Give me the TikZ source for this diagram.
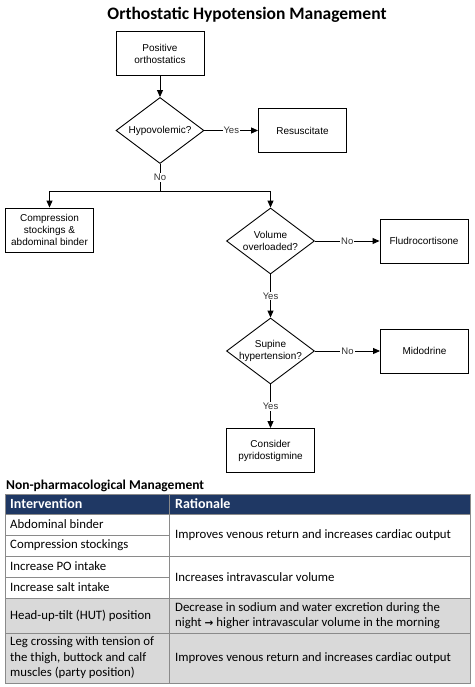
\documentclass[tikz,border=0pt]{standalone}
\usepackage{fontspec}
\setmainfont{Liberation Sans}
\newfontfamily\calfont{Carlito}
\newfontfamily\djvfont{DejaVu Sans}
\usetikzlibrary{shapes.geometric,arrows.meta}
\definecolor{navy}{HTML}{1F3864}
\definecolor{rowgray}{HTML}{D9D9D9}
\definecolor{tgray}{HTML}{8A8A8A}
\begin{document}
\begin{tikzpicture}[x=1pt,y=-1pt,
  box/.style={draw, line width=0.9pt, minimum width=88pt, minimum height=44pt, align=center,
    font=\fontsize{10}{12}\selectfont, inner sep=0pt},
  dia/.style={diamond, draw, line width=0.9pt, minimum width=88pt, minimum height=66pt,
    inner sep=0pt, aspect=1.333},
  diatext/.style={align=center, font=\fontsize{10}{12}\selectfont, inner sep=0pt},
  arr/.style={line width=0.9pt, -{Triangle[length=7pt,width=6pt]}},
  conn/.style={line width=0.9pt},
  lbl/.style={fill=white, inner sep=1pt, font=\fontsize{9.5}{11}\selectfont, text=black!80},
  tline/.style={draw=tgray, line width=0.8pt},
  ttext/.style={anchor=west, inner sep=0pt, align=left, font=\calfont\fontsize{12.8}{15.5}\selectfont},
  thead/.style={anchor=west, inner sep=0pt, text=white, font=\calfont\bfseries\fontsize{14}{15}\selectfont}
]
\useasboundingbox (0,0) rectangle (474,687);

% title
\node[font=\calfont\bfseries\fontsize{17.5}{20}\selectfont] (title) at (247,15) {Orthostatic Hypotension Management};

% flowchart
\node[box] (pos) at (160,53.5) {Positive\\orthostatics};
\node[dia, label={[diatext]center:Hypovolemic?}] (hypo) at (160,130.5) {};
\node[box] (resus) at (302.5,130.5) {Resuscitate};
\coordinate (split) at (160,191);
\node[box] (comp) at (49.5,230) {Compression\\stockings \&\\abdominal binder};
\node[dia, label={[diatext]center:Volume\\overloaded?}] (vol) at (270.5,241) {};
\node[box] (flu) at (424,241) {Fludrocortisone};
\node[dia, label={[diatext]center:Supine\\hypertension?}] (sup) at (270.5,351) {};
\node[box] (mid) at (424.5,351) {Midodrine};
\node[box] (pyr) at (270.5,450.5) {Consider\\pyridostigmine};

\draw[arr] (pos) -- (hypo);
\draw[arr] (hypo) -- node[lbl]{Yes} (resus);
\draw[conn] (hypo.south) -- node[lbl]{No} (split);
\draw[arr] (split) -| (comp.north);
\draw[arr] (split) -| (vol.north);
\draw[arr] (vol) -- node[lbl]{No} (flu);
\draw[arr] (vol) -- node[lbl]{Yes} (sup);
\draw[arr] (sup) -- node[lbl]{No} (mid);
\draw[arr] (sup) -- node[lbl]{Yes} (pyr);

% table
\node[anchor=west, inner sep=0pt, font=\calfont\bfseries\fontsize{13.5}{15}\selectfont] (tcap) at (6,486) {Non-pharmacological Management};
\fill[navy] (5,494) rectangle (470,514);
\fill[rowgray] (5,598) rectangle (470,683);
\draw[tline] (5,494) rectangle (470,683);
\draw[tline] (5,514) -- (470,514);
\draw[tline] (5,556) -- (470,556);
\draw[tline] (5,598) -- (470,598);
\draw[tline] (5,633) -- (470,633);
\draw[tline] (5,535) -- (169,535);
\draw[tline] (5,577) -- (169,577);
\draw[tline] (169,494) -- (169,683);

\node[thead] (h1) at (10,504) {Intervention};
\node[thead] (h2) at (175,504) {Rationale};
\node[ttext] (c1) at (10,524.5) {Abdominal binder};
\node[ttext] (c2) at (10,545.5) {Compression stockings};
\node[ttext] (c3) at (10,566.5) {Increase PO intake};
\node[ttext] (c4) at (10,587.5) {Increase salt intake};
\node[ttext] (c5) at (10,615.5) {Head-up-tilt (HUT) position};
\node[ttext] (c6) at (10,658) {Leg crossing with tension of\\the thigh, buttock and calf\\muscles (party position)};
\node[ttext] (r1) at (175,535) {Improves venous return and increases cardiac output};
\node[ttext] (r2) at (175,577) {Increases intravascular volume};
\node[ttext] (r3) at (175,615.5) {Decrease in sodium and water excretion during the\\night {\djvfont\bfseries\fontsize{10.5}{12}\selectfont →} higher intravascular volume in the morning};
\node[ttext] (r4) at (175,658) {Improves venous return and increases cardiac output};
\end{tikzpicture}
\end{document}
